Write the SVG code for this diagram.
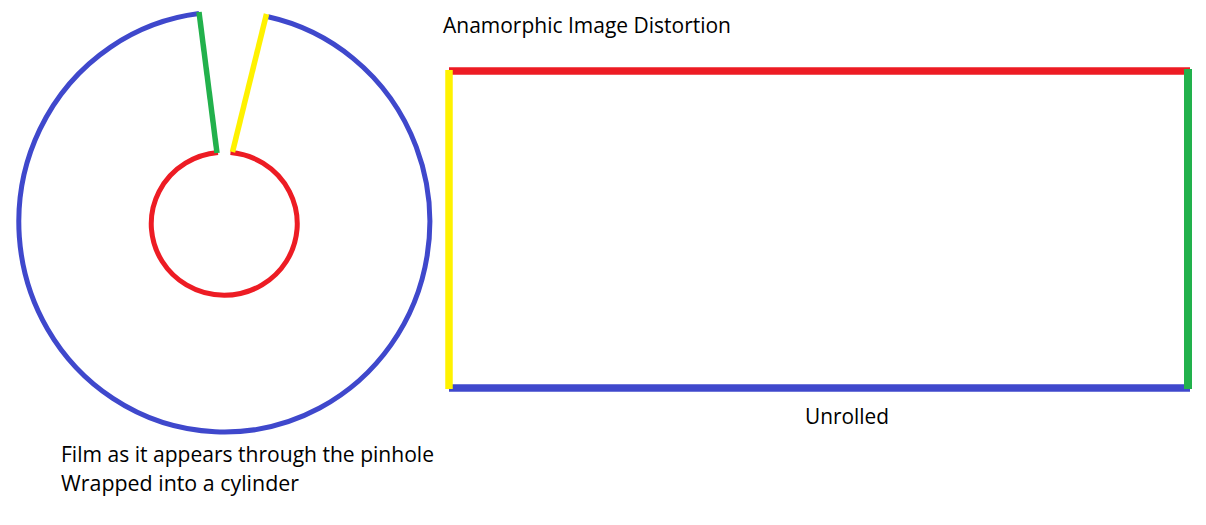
<svg xmlns="http://www.w3.org/2000/svg" width="1206" height="525" viewBox="0 0 1206 525">
<style>
.ln{fill:none;stroke-linecap:butt}
.blue{stroke:#3f48cc}
.red{stroke:#ed1c24}
.green{stroke:#22b14c}
.yellow{stroke:#fff200}
text{font-family:"Open Sans","Noto Sans","DejaVu Sans",sans-serif;font-size:21px;fill:#000}
</style>
<rect width="1206" height="525" fill="#fff"/>
<g id="cylinder">
<path class="ln blue" stroke-width="5" d="M 199 13.6 A 205.5 210 0 1 0 268 16.8"/>
<path class="ln red" stroke-width="5" d="M 218 152.5 A 73 71.5 0 1 0 230.5 152.5"/>
<line class="ln green" stroke-width="5.5" x1="199" y1="12" x2="217" y2="153"/>
<line class="ln yellow" stroke-width="5.5" x1="266.5" y1="14" x2="232.5" y2="152"/>
</g>
<g id="unrolled">
<line class="ln red" stroke-width="7.5" x1="449" y1="71" x2="1190" y2="71"/>
<line class="ln blue" stroke-width="7.5" x1="449" y1="388" x2="1190" y2="388"/>
<line class="ln yellow" stroke-width="7.5" stroke-linecap="round" x1="449" y1="70" x2="449" y2="389"/>
<line class="ln green" stroke-width="8" stroke-linecap="round" x1="1188" y1="69" x2="1188" y2="389"/>
</g>
<g id="labels">
<text x="443" y="33" textLength="288" lengthAdjust="spacingAndGlyphs">Anamorphic Image Distortion</text>
<text x="805" y="424" textLength="84" lengthAdjust="spacingAndGlyphs">Unrolled</text>
<text x="61" y="462" textLength="373" lengthAdjust="spacingAndGlyphs">Film as it appears through the pinhole</text>
<text x="61" y="491" textLength="238" lengthAdjust="spacingAndGlyphs">Wrapped into a cylinder</text>
</g>
</svg>
